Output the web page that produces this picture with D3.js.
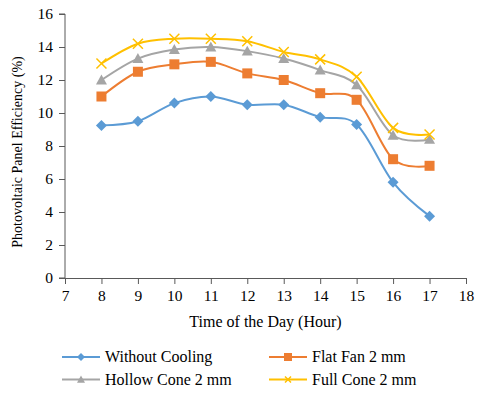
<!DOCTYPE html>
<html>
<head>
<meta charset="utf-8">
<script src="https://cdn.jsdelivr.net/npm/d3@7"></script>
<style>
  html, body { margin: 0; padding: 0; background: #fff; }
  svg text { font-family: "Liberation Serif", "Times New Roman", serif; fill: #000; }
</style>
</head>
<body>
<div id="chart"></div>
<script>
// data
const hours = [8, 9, 10, 11, 12, 13, 14, 15, 16, 17];
const withoutCooling = [9.25, 9.5, 10.6, 11.0, 10.5, 10.5, 9.75, 9.3, 5.8, 3.75];
const flatFan = [11.0, 12.5, 12.95, 13.1, 12.4, 12.0, 11.2, 10.8, 7.2, 6.8];
const hollowCone = [12.0, 13.3, 13.85, 14.0, 13.75, 13.3, 12.6, 11.7, 8.65, 8.4];
const fullCone = [13.0, 14.2, 14.5, 14.5, 14.35, 13.7, 13.25, 12.2, 9.1, 8.7];
const xTicks = [7, 8, 9, 10, 11, 12, 13, 14, 15, 16, 17, 18];
const yTicks = [0, 2, 4, 6, 8, 10, 12, 14, 16];

const series = [
  { name: 'Without Cooling', values: withoutCooling, color: '#5B9BD5', marker: 'diamond' },
  { name: 'Flat Fan 2 mm', values: flatFan, color: '#ED7D31', marker: 'square' },
  { name: 'Hollow Cone 2 mm', values: hollowCone, color: '#A5A5A5', marker: 'triangle' },
  { name: 'Full Cone 2 mm', values: fullCone, color: '#FFC000', marker: 'cross' },
];

const width = 480, height = 393;
const margin = { top: 14, right: 14, bottom: 115, left: 65 };
const w = width - margin.left - margin.right;
const h = height - margin.top - margin.bottom;

const svg = d3.select('#chart').append('svg')
  .attr('width', width).attr('height', height);
const g = svg.append('g').attr('transform', `translate(${margin.left},${margin.top})`);

const x = d3.scaleLinear().domain([7, 18]).range([0, w]);
const y = d3.scaleLinear().domain([0, 16]).range([h, 0]);

// axes
const yAxis = g.append('g')
  .call(d3.axisLeft(y).tickValues(yTicks).tickSize(6).tickPadding(6));
const xAxis = g.append('g').attr('transform', `translate(0,${h})`)
  .call(d3.axisBottom(x).tickValues(xTicks).tickSize(6).tickPadding(6));
[xAxis, yAxis].forEach(a => {
  a.attr('font-family', '"Liberation Serif", serif').attr('font-size', 15.5);
  a.selectAll('.tick text')
    .style('font-family', '"Liberation Serif", serif')
    .style('font-size', '15.5px')
    .style('fill', '#000');
  a.select('.domain').attr('stroke', '#595959').attr('stroke-width', 1);
  a.selectAll('.tick line').attr('stroke', '#595959');
});
yAxis.select('.domain').attr('d', `M-6,${h}H0V0H-6`);

// titles
svg.append('text')
  .attr('x', margin.left + w / 2).attr('y', 327)
  .attr('text-anchor', 'middle').attr('font-size', 16)
  .text('Time of the Day (Hour)');
svg.append('text')
  .attr('transform', `translate(22,152) rotate(-90)`)
  .attr('text-anchor', 'middle').attr('font-size', 14)
  .text('Photovoltaic Panel Efficiency (%)');

// markers
function drawMarker(sel, type, color, s) {
  if (type === 'diamond') {
    sel.append('path').attr('d', `M0,${-s}L${s},0L0,${s}L${-s},0Z`).attr('fill', color);
  } else if (type === 'square') {
    sel.append('rect').attr('x', -s).attr('y', -s).attr('width', 2 * s).attr('height', 2 * s).attr('fill', color);
  } else if (type === 'triangle') {
    sel.append('path').attr('d', `M0,${-s}L${s},${s * 0.8}L${-s},${s * 0.8}Z`).attr('fill', color);
  } else {
    sel.append('path').attr('d', `M${-s},${-s}L${s},${s}M${s},${-s}L${-s},${s}`)
      .attr('stroke', color).attr('stroke-width', 1.5).attr('fill', 'none');
  }
}
const markerSize = { diamond: 5.5, square: 5, triangle: 5.5, cross: 5 };

const line = d3.line()
  .x((d, i) => x(hours[i]))
  .y(d => y(d))
  .curve(d3.curveCardinal.tension(0));

series.forEach(s => {
  g.append('path').datum(s.values)
    .attr('d', line).attr('fill', 'none')
    .attr('stroke', s.color).attr('stroke-width', 2);
  s.values.forEach((v, i) => {
    const m = g.append('g').attr('transform', `translate(${x(hours[i])},${y(v)})`);
    drawMarker(m, s.marker, s.color, markerSize[s.marker]);
  });
});

// legend
const legendPos = [[62, 357], [269, 357], [62, 379.5], [269, 379.5]];
series.forEach((s, i) => {
  const [lx, ly] = legendPos[i];
  const lg = svg.append('g').attr('transform', `translate(${lx},${ly})`);
  lg.append('line').attr('x1', 0).attr('x2', 38).attr('y1', 0).attr('y2', 0)
    .attr('stroke', s.color).attr('stroke-width', 2);
  const m = lg.append('g').attr('transform', 'translate(19,0)');
  drawMarker(m, s.marker, s.color, s.marker === 'cross' ? 3 : 4);
  lg.append('text').attr('x', 43).attr('y', 5).attr('font-size', 16).text(s.name);
});
</script>
</body>
</html>
